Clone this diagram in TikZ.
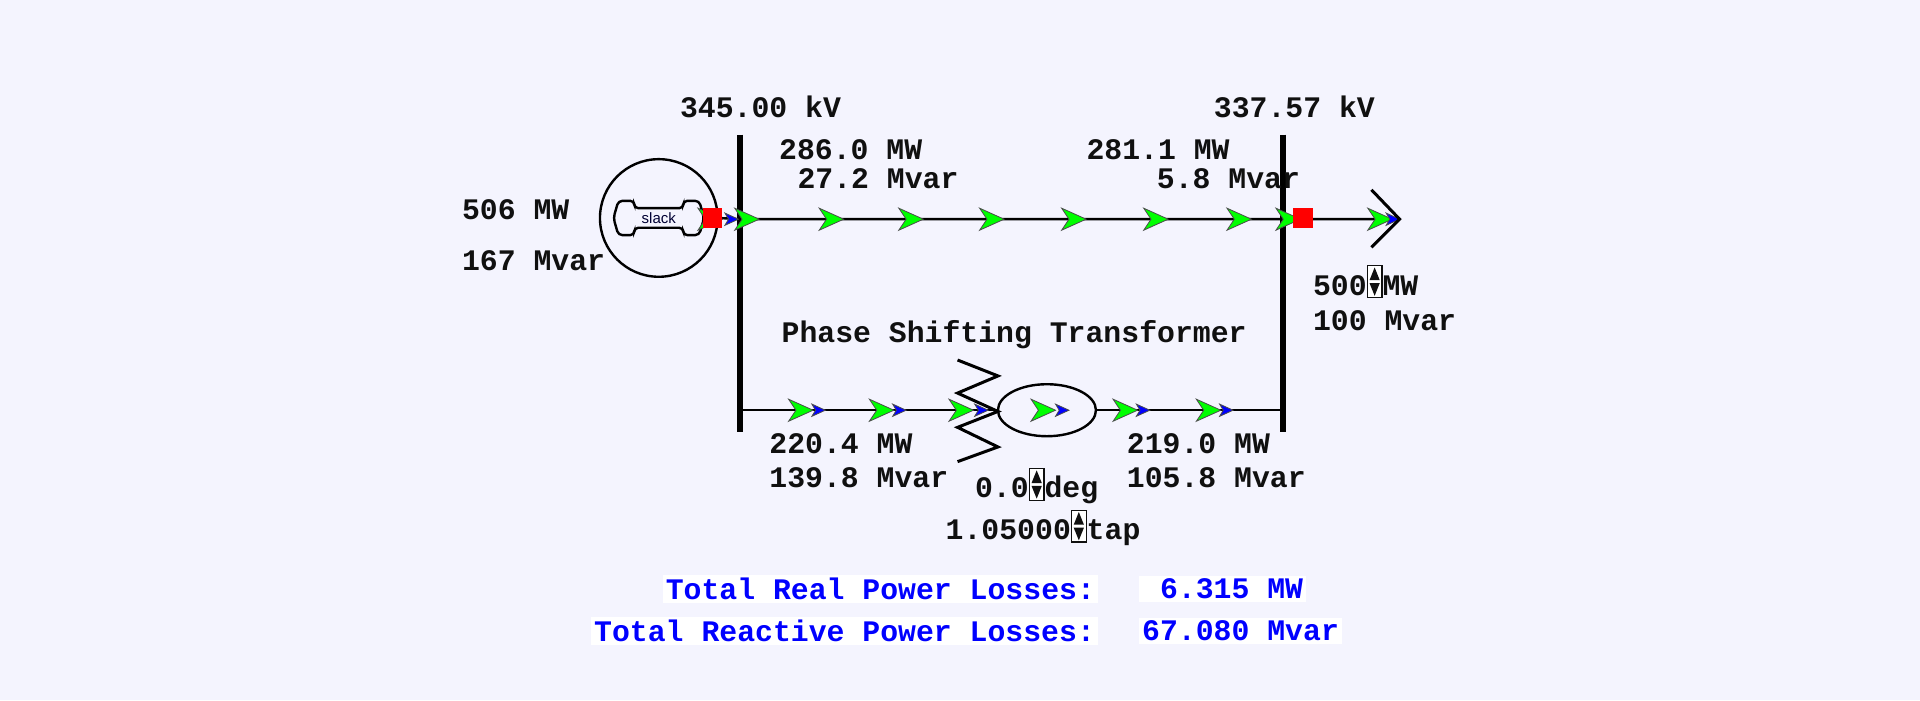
\documentclass[tikz,border=0pt]{standalone}
\usepackage{fontspec}
\usetikzlibrary{shapes.geometric}
\newfontfamily\mono{Liberation Mono}
\newfontfamily\sansx{Liberation Sans}
\definecolor{bg}{HTML}{F4F4FE}
\definecolor{fg}{HTML}{00FF00}
\definecolor{bl}{HTML}{0000FF}
\definecolor{txt}{HTML}{101010}
\newcommand\spinbox{\tikz[baseline=-0.45em,x=1.22pt,y=1.22pt]{\draw[line width=0.6pt,fill=white] (0,-6.5) rectangle (6,6.5); \fill (0.9,0.6)--(5.1,0.6)--(3,5.8)--cycle; \fill (0.9,-0.6)--(5.1,-0.6)--(3,-5.8)--cycle;}}
\tikzset{
 lbl/.style={anchor=west,inner sep=0pt,font=\mono\bfseries\fontsize{14.9}{16}\selectfont,text=txt},
 lbr/.style={lbl,anchor=east},
 loss/.style={anchor=west,inner sep=1.5pt,fill=white,font=\mono\bfseries\fontsize{14.9}{16}\selectfont,text=bl},
 bus/.style={line width=3.1pt},
 ln/.style={line width=1.2pt},
 ga/.pic={\filldraw[fill=fg,draw=black!70,line width=0.4pt] (12,0)--(-8,-9)--(-2,0)--(-8,9)--cycle;},
 ba/.pic={\filldraw[fill=bl,draw=black!70,line width=0.4pt] (7,0)--(-4,-5)--(-1,0)--(-4,5)--cycle;},
}
\begin{document}
\begin{tikzpicture}[x=0.6122pt,y=-0.6122pt]
\fill[bg] (0,0) rectangle (1568,571.7);
\useasboundingbox (0,0) rectangle (1568,571.7);
% buses
\coordinate (b1t) at (604,110); \coordinate (b1b) at (604,353);
\coordinate (b2t) at (1048,110); \coordinate (b2b) at (1048,353);
\draw[bus] (b1t)--(b1b); \draw[bus] (b2t)--(b2b);
% generator
\node[circle,draw,line width=1.2pt,minimum size=58.8pt,inner sep=0] (gen) at (538,178) {};
\draw[line width=1.2pt,rounded corners=2] (505,164)--(518,164)--(518,170)--(558,170)--(558,164)--(571,164)--(575,178)--(571,192)--(558,192)--(558,186)--(518,186)--(518,192)--(505,192)--(501,178)--cycle;
\node[font=\sansx\fontsize{7.5}{8}\selectfont,text=black!80!blue] at (538,178) {slack};
\coordinate (l1a) at (604,179); \coordinate (l1b) at (1048,179);
\draw[ln] (gen.east)--(l1a)--(l1b)--(1138,179);
\pic at (578,179) {ga};
\pic at (596,179) {ba};
\pic at (608,179) {ga};
\foreach \x in {677,742,808,875,942,1010,1050,1125} \pic at (\x,179) {ga};
\pic at (1136,179) {ba};
\node[fill=red,minimum size=9.8pt,inner sep=0] (sq1) at (582,178) {};
\node[fill=red,minimum size=9.8pt,inner sep=0] (sq2) at (1064,178) {};
% load
\draw[line width=1.5pt] (1120,155)--(1143,179)--(1120,202);
% bottom line
\coordinate (l2a) at (604,335); \coordinate (l2b) at (1048,335);
\node[ellipse,draw,line width=1.2pt,minimum width=49pt,minimum height=26pt,inner sep=0] (ps) at (855,335) {};
\draw[ln] (l2a)--(ps.west); \draw[ln] (ps.east)--(l2b);
\draw[line width=1.5pt] (782,294)--(815,307)--(782,321)--(815,336)--(782,349)--(815,365)--(782,377);
\foreach \x in {652,718,783,850,917,985} \pic at (\x,335) {ga};
\foreach \x in {667,733,800,866,932,1000} \pic at (\x,335) {ba};
% labels
\node[lbl] at (555,87) {345.00 kV};
\node[lbl] at (991,87) {337.57 kV};
\node[lbl] at (636,122) {286.0 MW};
\node[lbl] at (651,146) {27.2 Mvar};
\node[lbl] at (887,122) {281.1 MW};
\node[lbr] at (1062,146) {5.8 Mvar};
\node[lbl] at (377,171) {506 MW};
\node[lbl] at (377,213) {167 Mvar};
\node[lbl] at (1072,230) {500\spinbox MW};
\node[lbl] at (1072,262) {100 Mvar};
\node[lbl] at (638,273) {Phase Shifting Transformer};
\node[lbl] at (628,362) {220.4 MW};
\node[lbl] at (628,390) {139.8 Mvar};
\node[lbl] at (920,362) {219.0 MW};
\node[lbl] at (920,390) {105.8 Mvar};
\node[lbl] at (796,397) {0.0\spinbox deg};
\node[lbl] at (772,431) {1.05000\spinbox tap};
% losses
\node[loss,anchor=east] at (897,481) {Total Real Power Losses:};
\node[loss,anchor=east] at (897,515) {Total Reactive Power Losses:};
\node[loss] at (930,481) {\ 6.315 MW\ };
\node[loss] at (930,515) {67.080 Mvar};
\end{tikzpicture}
\end{document}
